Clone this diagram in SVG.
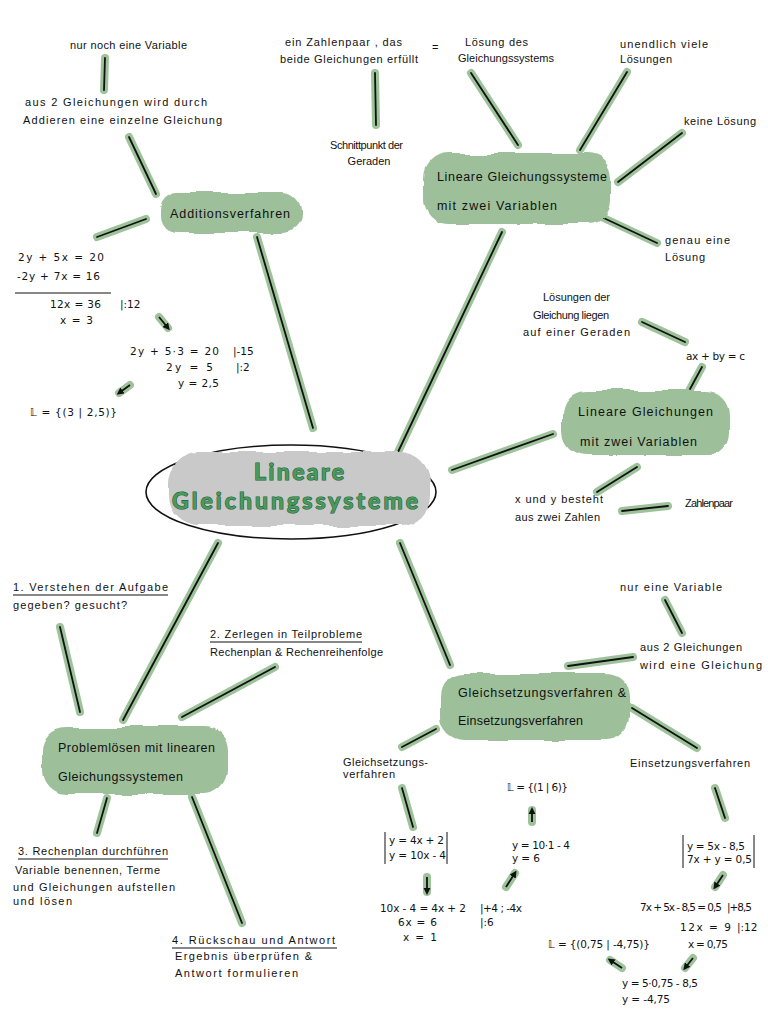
<svg xmlns="http://www.w3.org/2000/svg" xmlns:xlink="http://www.w3.org/1999/xlink" width="768" height="1024" viewBox="0 0 768 1024">
<style>
.t{font-family:"Liberation Sans","DejaVu Sans",sans-serif;font-size:11px;fill:#111}
.m{font-family:"DejaVu Sans","Liberation Sans",sans-serif;font-size:10.5px;fill:#111}
.n{font-family:"Liberation Sans","DejaVu Sans",sans-serif;font-size:12.5px;fill:#111}
.halo{stroke:#9ec39b;stroke-width:8;stroke-linecap:round;fill:none}
.ink{stroke:#111;stroke-width:1.8;stroke-linecap:round;fill:none}
.ah{stroke:#111;stroke-width:1.8;fill:none;marker-end:url(#arr)}
.cloud{fill:#9dbf99;filter:url(#wob)}
.ul{stroke:#111;stroke-width:1;fill:none}
.title{font-family:"Lato","Open Sans",sans-serif;font-weight:bold;font-size:23px;fill:#4a995c;stroke:#22603a;stroke-width:1.2;paint-order:stroke}
</style>
<defs>
<filter id="wob" x="-10%" y="-20%" width="120%" height="140%">
<feTurbulence type="fractalNoise" baseFrequency="0.035" numOctaves="1" seed="5"/>
<feDisplacementMap in="SourceGraphic" scale="10" xChannelSelector="R" yChannelSelector="G"/>
</filter>
<marker id="arr" viewBox="0 0 10 10" refX="6" refY="5" markerWidth="4" markerHeight="4" orient="auto">
<path d="M0,0 L10,5 L0,10 z" fill="#111"/>
</marker>
<path id="c1" d="M105,58 L104,90"/>
<path id="c2" d="M129,137 L156,194"/>
<path id="c3" d="M146,219 L97,237"/>
<path id="c4" d="M257,237 L313,428"/>
<path id="c5" d="M375,73 L376,125"/>
<path id="c6" d="M471,73 L518,145"/>
<path id="c7" d="M627,72 L580,150"/>
<path id="c8" d="M682,133 L618,182"/>
<path id="c9" d="M593,213 L657,243"/>
<path id="c10" d="M502,232 L398,452"/>
<path id="c11" d="M642,322 L685,342"/>
<path id="c12" d="M702,367 L690,389"/>
<path id="c13" d="M553,434 L452,470"/>
<path id="c14" d="M637,467 L597,492"/>
<path id="c15" d="M622,511 L668,506"/>
<path id="c16" d="M218,543 L123,720"/>
<path id="c17" d="M60,627 L80,712"/>
<path id="c18" d="M275,667 L182,717"/>
<path id="c19" d="M107,798 L97,833"/>
<path id="c20" d="M192,797 L242,923"/>
<path id="c21" d="M400,543 L450,665"/>
<path id="c22" d="M665,600 L682,633"/>
<path id="c23" d="M633,657 L568,666"/>
<path id="c24" d="M632,708 L697,748"/>
<path id="c25" d="M436,729 L402,747"/>
<path id="c26" d="M402,788 L413,827"/>
<path id="c27" d="M715,788 L725,818"/>
<path id="a1" d="M159,317 L168,328"/>
<path id="a2" d="M130,385 L119,393"/>
<path id="a3" d="M427,877 L427,892"/>
<path id="a4" d="M506,887 L515,873"/>
<path id="a5" d="M532,822 L532,810"/>
<path id="a6" d="M723,875 L715,887"/>
<path id="a7" d="M693,958 L685,968"/>
<path id="a8" d="M622,968 L610,960"/>
</defs>
<rect width="768" height="1024" fill="#fff"/>

<g id="connectors">
<g class="halo">
<use href="#c1"/><use href="#c2"/><use href="#c3"/><use href="#c4"/><use href="#c5"/><use href="#c6"/><use href="#c7"/><use href="#c8"/><use href="#c9"/><use href="#c10"/><use href="#c11"/><use href="#c12"/><use href="#c13"/><use href="#c14"/><use href="#c15"/><use href="#c16"/><use href="#c17"/><use href="#c18"/><use href="#c19"/><use href="#c20"/><use href="#c21"/><use href="#c22"/><use href="#c23"/><use href="#c24"/><use href="#c25"/><use href="#c26"/><use href="#c27"/>
<use href="#a1"/><use href="#a2"/><use href="#a3"/><use href="#a4"/><use href="#a5"/><use href="#a6"/><use href="#a7"/><use href="#a8"/>
</g>
<g class="ink">
<use href="#c1"/><use href="#c2"/><use href="#c3"/><use href="#c4"/><use href="#c5"/><use href="#c6"/><use href="#c7"/><use href="#c8"/><use href="#c9"/><use href="#c10"/><use href="#c11"/><use href="#c12"/><use href="#c13"/><use href="#c14"/><use href="#c15"/><use href="#c16"/><use href="#c17"/><use href="#c18"/><use href="#c19"/><use href="#c20"/><use href="#c21"/><use href="#c22"/><use href="#c23"/><use href="#c24"/><use href="#c25"/><use href="#c26"/><use href="#c27"/>
</g>
<g class="ah">
<use href="#a1"/><use href="#a2"/><use href="#a3"/><use href="#a4"/><use href="#a5"/><use href="#a6"/><use href="#a7"/><use href="#a8"/>
</g>
</g>

<g id="center">
<ellipse cx="291" cy="492" rx="145" ry="47" fill="#fff" stroke="#111" stroke-width="1.6"/>
<rect x="168" y="452" width="262" height="74" rx="30" fill="#c9c9c9" filter="url(#wob)"/>
<text class="title" x="299" y="480" text-anchor="middle" textLength="90">Lineare</text>
<text class="title" x="295" y="509" text-anchor="middle" textLength="246">Gleichungssysteme</text>
</g>

<g id="additionsverfahren">
<rect class="cloud" x="160" y="193" width="140" height="40" rx="18"/>
<text class="n" x="170" y="218" textLength="120">Additionsverfahren</text>
</g>
<g id="lgs">
<rect class="cloud" x="424" y="154" width="188" height="70" rx="24"/>
<text class="n" x="437" y="181" textLength="170">Lineare Gleichungssysteme</text>
<text class="n" x="437" y="210" textLength="120">mit zwei Variablen</text>
</g>
<g id="lg">
<rect class="cloud" x="563" y="391" width="166" height="64" rx="24"/>
<text class="n" x="578" y="416" textLength="135">Lineare Gleichungen</text>
<text class="n" x="580" y="446" textLength="117">mit zwei Variablen</text>
</g>
<g id="gleichsetzung">
<rect class="cloud" x="441" y="673" width="189" height="67" rx="24"/>
<text class="n" x="458" y="697" textLength="168">Gleichsetzungsverfahren &amp;</text>
<text class="n" x="458" y="725" textLength="125">Einsetzungsverfahren</text>
</g>
<g id="problemloesen">
<rect class="cloud" x="43" y="727" width="185" height="67" rx="24"/>
<text class="n" x="58" y="752" textLength="157">Problemlösen mit linearen</text>
<text class="n" x="58" y="781" textLength="125">Gleichungssystemen</text>
</g>

<g id="top-left-notes">
<text class="t" x="70" y="49" textLength="117">nur noch eine Variable</text>
<text class="t" x="25" y="106" textLength="182">aus 2 Gleichungen wird durch</text>
<text class="t" x="23" y="124" textLength="199">Addieren eine einzelne Gleichung</text>
</g>
<g id="top-middle-notes">
<text class="t" x="285" y="46" textLength="117">ein Zahlenpaar , das</text>
<text class="t" x="280" y="63" textLength="138">beide Gleichungen erfüllt</text>
<text class="t" x="432" y="51" font-size="14">=</text>
<text class="t" x="465" y="46" textLength="63">Lösung des</text>
<text class="t" x="458" y="62" textLength="96">Gleichungssystems</text>
<text class="t" x="330" y="149" textLength="73">Schnittpunkt der</text>
<text class="t" x="369" y="165" text-anchor="middle">Geraden</text>
</g>
<g id="top-right-notes">
<text class="t" x="620" y="48" textLength="88">unendlich viele</text>
<text class="t" x="620" y="63" textLength="52">Lösungen</text>
<text class="t" x="684" y="125" textLength="72">keine Lösung</text>
<text class="t" x="665" y="244" textLength="65">genau eine</text>
<text class="t" x="665" y="261" textLength="40">Lösung</text>
</g>
<g id="addition-example">
<text class="m" x="18" y="261" textLength="86">2y + 5x = 20</text>
<text class="m" x="17" y="280" textLength="83">-2y + 7x = 16</text>
<path class="ul" d="M15,293 L111,293"/>
<text class="m" x="50" y="308" textLength="51">12x = 36</text>
<text class="m" x="120" y="308">|:12</text>
<text class="m" x="60" y="324" textLength="33">x = 3</text>
<text class="m" x="130" y="355" textLength="89">2y + 5·3 = 20</text>
<text class="m" x="233" y="355">|-15</text>
<text class="m" x="166" y="371" textLength="47">2y = 5</text>
<text class="m" x="236" y="371">|:2</text>
<text class="m" x="178" y="387" textLength="41">y = 2,5</text>
<text class="m" x="30" y="416" textLength="87">𝕃 = {(3 | 2,5)}</text>
</g>
<g id="lg-notes">
<text class="t" x="543" y="301" textLength="67">Lösungen der</text>
<text class="t" x="533" y="319" textLength="76">Gleichung liegen</text>
<text class="t" x="523" y="336" textLength="107">auf einer Geraden</text>
<text class="m" x="686" y="360" textLength="59">ax + by = c</text>
<text class="t" x="515" y="503" textLength="88">x und y besteht</text>
<text class="t" x="515" y="521" textLength="85">aus zwei Zahlen</text>
<text class="t" x="685" y="507" textLength="48">Zahlenpaar</text>
</g>
<g id="problem-steps">
<text class="t" x="13" y="591" textLength="155">1. Verstehen der Aufgabe</text>
<path class="ul" d="M13,595 L168,595"/>
<text class="t" x="13" y="609" textLength="114">gegeben? gesucht?</text>
<text class="t" x="210" y="638" textLength="152">2. Zerlegen in Teilprobleme</text>
<path class="ul" d="M210,642 L362,642"/>
<text class="t" x="210" y="656" textLength="173">Rechenplan &amp; Rechenreihenfolge</text>
<text class="t" x="18" y="855" textLength="150">3. Rechenplan durchführen</text>
<path class="ul" d="M18,859 L168,859"/>
<text class="t" x="15" y="874" textLength="145">Variable benennen, Terme</text>
<text class="t" x="13" y="891" textLength="162">und Gleichungen aufstellen</text>
<text class="t" x="13" y="905" textLength="59">und lösen</text>
<text class="t" x="172" y="944" textLength="163">4. Rückschau und Antwort</text>
<path class="ul" d="M172,948 L337,948"/>
<text class="t" x="175" y="960" textLength="137">Ergebnis überprüfen &amp;</text>
<text class="t" x="175" y="977" textLength="123">Antwort formulieren</text>
</g>
<g id="gleichsetzung-example">
<text class="t" x="343" y="766" textLength="85">Gleichsetzungs-</text>
<text class="t" x="343" y="778" textLength="52">verfahren</text>
<path class="ul" d="M385,832 L385,864 M447,832 L447,864"/>
<text class="m" x="389" y="844" textLength="55">y = 4x + 2</text>
<text class="m" x="389" y="859" textLength="57">y = 10x - 4</text>
<text class="m" x="380" y="912" textLength="86">10x - 4 = 4x + 2</text>
<text class="m" x="398" y="926" textLength="39">6x = 6</text>
<text class="m" x="403" y="941" textLength="34">x = 1</text>
<text class="m" x="480" y="912" textLength="42">|+4 ; -4x</text>
<text class="m" x="480" y="926">|:6</text>
<text class="m" x="512" y="849" textLength="58">y = 10·1 - 4</text>
<text class="m" x="512" y="862" textLength="28">y = 6</text>
<text class="m" x="507" y="791" textLength="61">𝕃 = {(1 | 6)}</text>
</g>
<g id="einsetzung-example">
<text class="t" x="620" y="591" textLength="102">nur eine Variable</text>
<text class="t" x="640" y="651" textLength="102">aus 2 Gleichungen</text>
<text class="t" x="640" y="669" textLength="122">wird eine Gleichung</text>
<text class="t" x="630" y="767" textLength="120">Einsetzungsverfahren</text>
<path class="ul" d="M683,835 L683,868 M754,835 L754,868"/>
<text class="m" x="687" y="850" textLength="58">y = 5x - 8,5</text>
<text class="m" x="687" y="863" textLength="65">7x + y = 0,5</text>
<text class="m" x="640" y="911" textLength="82">7x + 5x - 8,5 = 0,5</text>
<text class="m" x="727" y="911" textLength="25">|+8,5</text>
<text class="m" x="680" y="931" textLength="51">12x = 9</text>
<text class="m" x="737" y="931">|:12</text>
<text class="m" x="688" y="948" textLength="40">x = 0,75</text>
<text class="m" x="548" y="948" textLength="102">𝕃 = {(0,75 | -4,75)}</text>
<text class="m" x="622" y="987" textLength="76">y = 5·0,75 - 8,5</text>
<text class="m" x="622" y="1003" textLength="48">y = -4,75</text>
</g>
</svg>
